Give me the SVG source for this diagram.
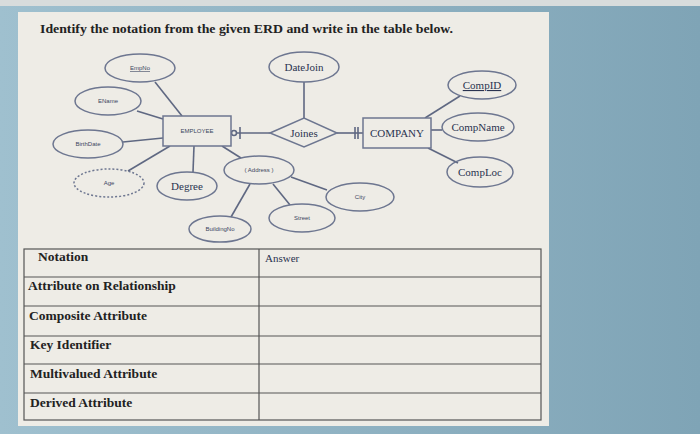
<svg xmlns="http://www.w3.org/2000/svg" width="700" height="434" viewBox="0 0 700 434">
<defs>
<linearGradient id="bg" x1="0" y1="0" x2="1" y2="0"><stop offset="0" stop-color="#9fc0cf"/><stop offset="1" stop-color="#7fa4b6"/></linearGradient>
</defs>
<style>
.e{fill:none;stroke:#6d7690;stroke-width:1.5}
.l{stroke:#5f6882;stroke-width:1.6;fill:none}
.s{font-family:"Liberation Sans",Arial,sans-serif;font-size:6px;fill:#3b4560}
.t{font-family:"Liberation Serif","Times New Roman",serif;font-size:11px;fill:#2a3350}
.b{font-family:"Liberation Serif","Times New Roman",serif;font-weight:bold;font-size:13.5px;fill:#222}
.g{stroke:#555;stroke-width:1.2;fill:none}
</style>
<rect width="700" height="434" fill="url(#bg)"/>
<rect x="0" y="0" width="700" height="6" fill="#d8dcdc"/>
<rect x="18" y="12" width="531" height="414" fill="#eeece6"/>
<text x="40" y="33" class="b" font-size="15" textLength="413" lengthAdjust="spacingAndGlyphs">Identify the notation from the given ERD and write in the table below.</text>
<g id="connectors">
<line class="l" x1="155" y1="82" x2="182" y2="116"/>
<line class="l" x1="137" y1="111" x2="163" y2="119"/>
<line class="l" x1="123" y1="142" x2="163" y2="138"/>
<line class="l" x1="128" y1="171" x2="170" y2="146"/>
<line class="l" x1="194" y1="146" x2="193" y2="172"/>
<line class="l" x1="222" y1="146" x2="241" y2="158"/>
<line class="l" x1="250" y1="184" x2="231" y2="217"/>
<line class="l" x1="273" y1="184" x2="290" y2="205"/>
<line class="l" x1="291" y1="177" x2="327" y2="190"/>
<line class="l" x1="237" y1="133" x2="270" y2="133"/>
<circle class="l" cx="234" cy="133" r="2.5" stroke-width="1.2"/>
<line class="l" x1="240" y1="127" x2="240" y2="139"/>
<line class="l" x1="337" y1="133" x2="363" y2="133"/>
<line class="l" x1="355" y1="127" x2="355" y2="139"/>
<line class="l" x1="358" y1="127" x2="358" y2="139"/>
<line class="l" x1="304" y1="82" x2="304" y2="118"/>
<line class="l" x1="425" y1="118" x2="460" y2="96"/>
<line class="l" x1="431" y1="130" x2="442" y2="130"/>
<line class="l" x1="428" y1="148" x2="458" y2="163"/>
</g>
<g id="EmpNo"><ellipse class="e" cx="140" cy="68" rx="35" ry="14"/><text class="s" x="140" y="70" text-anchor="middle" text-decoration="underline">EmpNo</text></g>
<g id="EName"><ellipse class="e" cx="108" cy="101" rx="33" ry="14"/><text class="s" x="108" y="103" text-anchor="middle">EName</text></g>
<g id="BirthDate"><ellipse class="e" cx="88" cy="144" rx="35" ry="14"/><text class="s" x="88" y="146" text-anchor="middle">BirthDate</text></g>
<g id="Age"><ellipse class="e" cx="109" cy="183" rx="35" ry="14" stroke-dasharray="2 2"/><text class="s" x="109" y="185" text-anchor="middle">Age</text></g>
<g id="Degree"><ellipse class="e" cx="187" cy="186" rx="30" ry="14" stroke-width="3.5" stroke="#8a93ab"/><text class="t" x="187" y="190" text-anchor="middle" font-size="12">Degree</text></g>
<g id="EMPLOYEE"><rect x="163" y="116" width="68" height="30" fill="#eeece6" stroke="#6d7690" stroke-width="1.5"/><text class="s" x="197" y="133" text-anchor="middle">EMPLOYEE</text></g>
<g id="Address"><ellipse class="e" cx="259" cy="170" rx="35" ry="14"/><text class="s" x="259" y="172" text-anchor="middle">( Address )</text></g>
<g id="BuildingNo"><ellipse class="e" cx="220" cy="229" rx="31" ry="13"/><text class="s" x="220" y="231" text-anchor="middle">BuildingNo</text></g>
<g id="Street"><ellipse class="e" cx="302" cy="218" rx="33" ry="14"/><text class="s" x="302" y="220" text-anchor="middle">Street</text></g>
<g id="City"><ellipse class="e" cx="360" cy="197" rx="34" ry="14"/><text class="s" x="360" y="199" text-anchor="middle">City</text></g>
<g id="DateJoin"><ellipse class="e" cx="304" cy="67" rx="35" ry="15"/><text class="t" x="304" y="71" text-anchor="middle">DateJoin</text></g>
<g id="Joines"><polygon class="e" points="270,133 304,118 337,133 304,147" fill="#eeece6"/><text class="t" x="304" y="137" text-anchor="middle">Joines</text></g>
<g id="COMPANY"><rect x="363" y="118" width="68" height="30" fill="#eeece6" stroke="#6d7690" stroke-width="1.5"/><text class="t" x="397" y="137" text-anchor="middle" font-size="11.5">COMPANY</text></g>
<g id="CompID"><ellipse class="e" cx="482" cy="85" rx="34" ry="14"/><text class="t" x="482" y="89" text-anchor="middle" text-decoration="underline">CompID</text></g>
<g id="CompName"><ellipse class="e" cx="478" cy="127" rx="36" ry="14"/><text class="t" x="478" y="131" text-anchor="middle">CompName</text></g>
<g id="CompLoc"><ellipse class="e" cx="480" cy="172" rx="33" ry="15"/><text class="t" x="480" y="176" text-anchor="middle">CompLoc</text></g>
<g id="table">
<rect class="g" x="24" y="249" width="517" height="171"/>
<line class="g" x1="259" y1="249" x2="259" y2="420"/>
<line class="g" x1="24" y1="277" x2="541" y2="277"/>
<line class="g" x1="24" y1="306" x2="541" y2="306"/>
<line class="g" x1="24" y1="336" x2="541" y2="336"/>
<line class="g" x1="24" y1="364" x2="541" y2="364"/>
<line class="g" x1="24" y1="393" x2="541" y2="393"/>
<text class="b" x="38" y="261">Notation</text>
<text class="t" x="265" y="262" font-size="13.5" fill="#222">Answer</text>
<text class="b" x="28" y="290">Attribute on Relationship</text>
<text class="b" x="29" y="320">Composite Attribute</text>
<text class="b" x="30" y="349">Key Identifier</text>
<text class="b" x="30" y="378">Multivalued Attribute</text>
<text class="b" x="30" y="407">Derived Attribute</text>
</g>
</svg>
